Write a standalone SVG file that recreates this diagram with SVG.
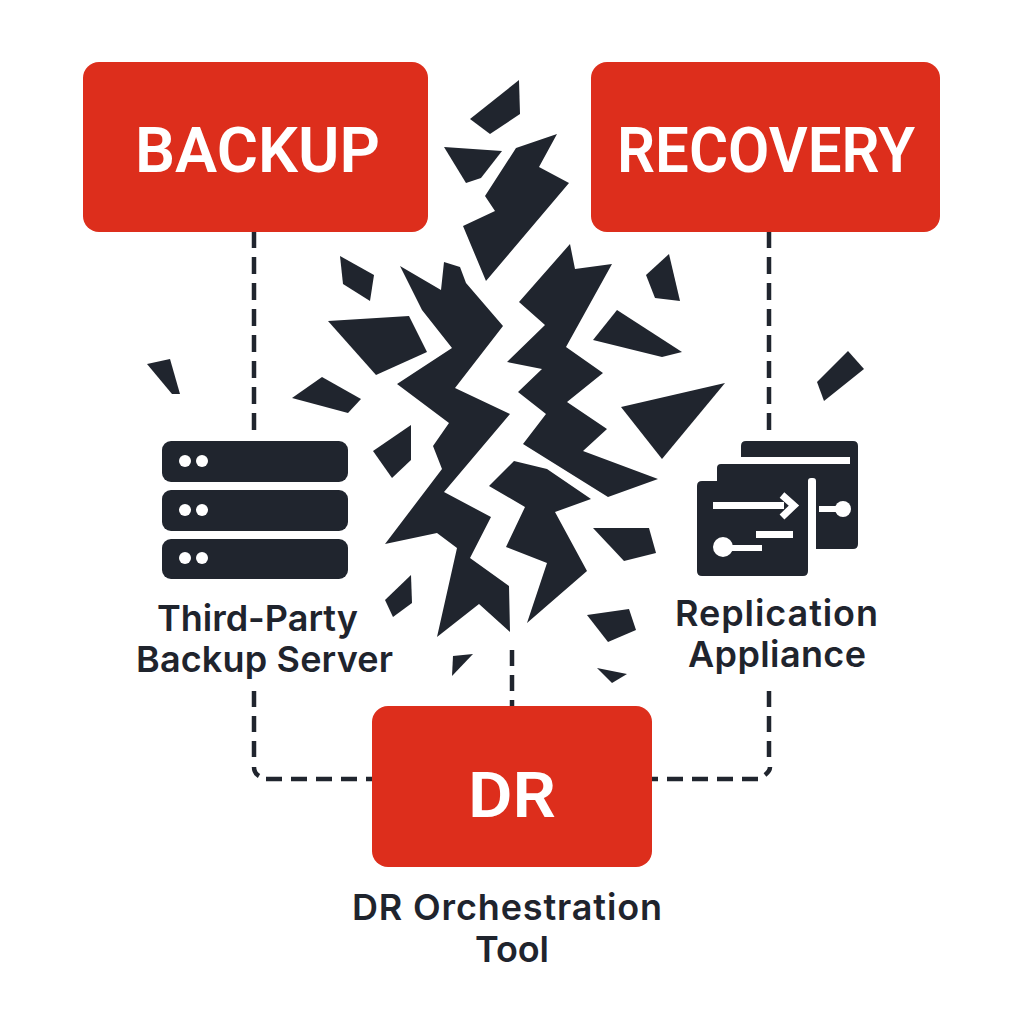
<svg xmlns="http://www.w3.org/2000/svg" width="1024" height="1024" viewBox="0 0 1024 1024">
<style>
.box{fill:#dd2e1c}
.big{font-family:"Roboto","Inter","Liberation Sans",sans-serif;font-weight:600;font-size:63px;fill:#fff;text-anchor:middle}
.lab{font-family:"Inter","Roboto","Liberation Sans",sans-serif;font-weight:600;font-size:36px;fill:#1f242d;text-anchor:middle}
.dark{fill:#20252e}
.dot{fill:#fff}
.w{fill:#fff}
.dash{fill:none;stroke:#20252e;stroke-width:4.5;stroke-dasharray:17 9}
.dash2{fill:none;stroke:#20252e;stroke-width:4.5;stroke-dasharray:16 9}
.solid{fill:none;stroke:#20252e;stroke-width:4.5}
</style>
<rect width="1024" height="1024" fill="#fff"/>
<g id="connectors">
<path class="dash" d="M254 231V430"/>
<path class="dash" d="M769 231V431"/>
<path class="dash2" d="M512 650V706"/>
<path class="dash2" d="M254 691V757"/>
<path class="solid" d="M254 767Q254 773 259 776"/>
<path class="dash2" d="M266 779H372"/>
<path class="dash2" d="M769 691V757"/>
<path class="solid" d="M770 767Q770 771 765 775"/>
<path class="dash2" d="M758 779H652"/>
</g>
<g id="cracks" class="dark">
<polygon points="519,80 520,114 490,134 470,119"/>
<polygon points="444,147 502,151 481,178 466,183"/>
<polygon points="516,148 557,134 539,167 569,183 486,281 463,226 495,211 485,196"/>
<polygon points="340,256 374,275 370,301 343,284"/>
<polygon points="328,321 409,316 427,352 376,375"/>
<polygon points="400,266 441,290 444,262 460,267 466,283 503,326 455,388 510,414 444,492 491,517 470,558 509,586 510,632 479,604 437,637 457,548 437,533 385,544 442,469 433,446 449,423 397,384 452,348 422,310"/>
<polygon points="570,244 575,269 612,264 566,347 603,373 567,402 607,429 583,451 658,479 608,497 523,444 546,414 518,392 542,369 507,362 545,325 519,302"/>
<polygon points="514,461 547,469 591,499 555,512 587,571 527,623 547,563 506,547 525,507 489,486"/>
<polygon points="669,254 680,301 655,298 646,275"/>
<polygon points="617,310 682,352 662,357 593,340"/>
<polygon points="725,383 662,459 621,407"/>
<polygon points="411,425 411,460 392,478 373,451"/>
<polygon points="411,575 412,603 393,617 385,600"/>
<polygon points="453,656 473,654 452,676"/>
<polygon points="593,528 649,528 656,553 624,561"/>
<polygon points="587,615 629,609 636,630 608,642"/>
<polygon points="597,668 627,674 612,683"/>
<polygon points="848,351 864,369 824,401 817,382"/>
<polygon points="147,364 170,359 180,394 172,394"/>
<polygon points="322,377 361,399 348,413 292,398"/>
</g>
<g id="backup"><rect class="box" x="83" y="62" width="345" height="170" rx="16"/><text class="big" x="257.500" y="172" textLength="245" lengthAdjust="spacingAndGlyphs">BACKUP</text></g>
<g id="recovery"><rect class="box" x="591" y="62" width="349" height="170" rx="16"/><text class="big" x="766" y="172" textLength="298" lengthAdjust="spacingAndGlyphs">RECOVERY</text></g>
<g id="dr"><rect class="box" x="372" y="706" width="280" height="161" rx="16"/><text class="big" x="512" y="817" textLength="88" lengthAdjust="spacingAndGlyphs">DR</text></g>
<g id="server" class="dark">
<rect x="162" y="441" width="186" height="41" rx="9"/>
<rect x="162" y="490" width="186" height="41" rx="9"/>
<rect x="162" y="539" width="186" height="40" rx="9"/>
<circle class="dot" cx="185" cy="461" r="6"/><circle class="dot" cx="202" cy="461" r="6"/>
<circle class="dot" cx="185" cy="510" r="6"/><circle class="dot" cx="202" cy="510" r="6"/>
<circle class="dot" cx="185" cy="558" r="6"/><circle class="dot" cx="202" cy="558" r="6"/>
<text class="lab" x="257.500" y="631" textLength="201">Third-Party</text>
<text class="lab" x="264.500" y="672" textLength="257">Backup Server</text>
</g>
<g id="appliance">
<path class="dark" d="M741 457V446Q741 441 746 441H853Q858 441 858 446V544Q858 549 853 549H816V481Q816 478 813 478H811Q808 478 808 481V571Q808 576 803 576H702Q697 576 697 571V486Q697 481 702 481H717V468Q717 464 721 464H850V457Z"/>
<path class="w" d="M713 502H784V509H713Z"/>
<path d="M782 495L794 505.500L782 517" fill="none" stroke="#fff" stroke-width="7"/>
<rect class="w" x="756" y="531" width="37" height="7"/>
<circle class="w" cx="723" cy="547" r="10"/><rect class="w" x="723" y="545" width="39" height="6"/>
<rect class="w" x="819" y="506" width="24" height="6"/><circle class="w" cx="843" cy="509" r="8"/>
<text class="lab" x="776.500" y="626" textLength="203">Replication</text>
<text class="lab" x="777" y="667" textLength="178">Appliance</text>
</g>
<g id="dr-label">
<text class="lab" x="507" y="920" textLength="310">DR Orchestration</text>
<text class="lab" x="512" y="962" textLength="74">Tool</text>
</g>
</svg>
